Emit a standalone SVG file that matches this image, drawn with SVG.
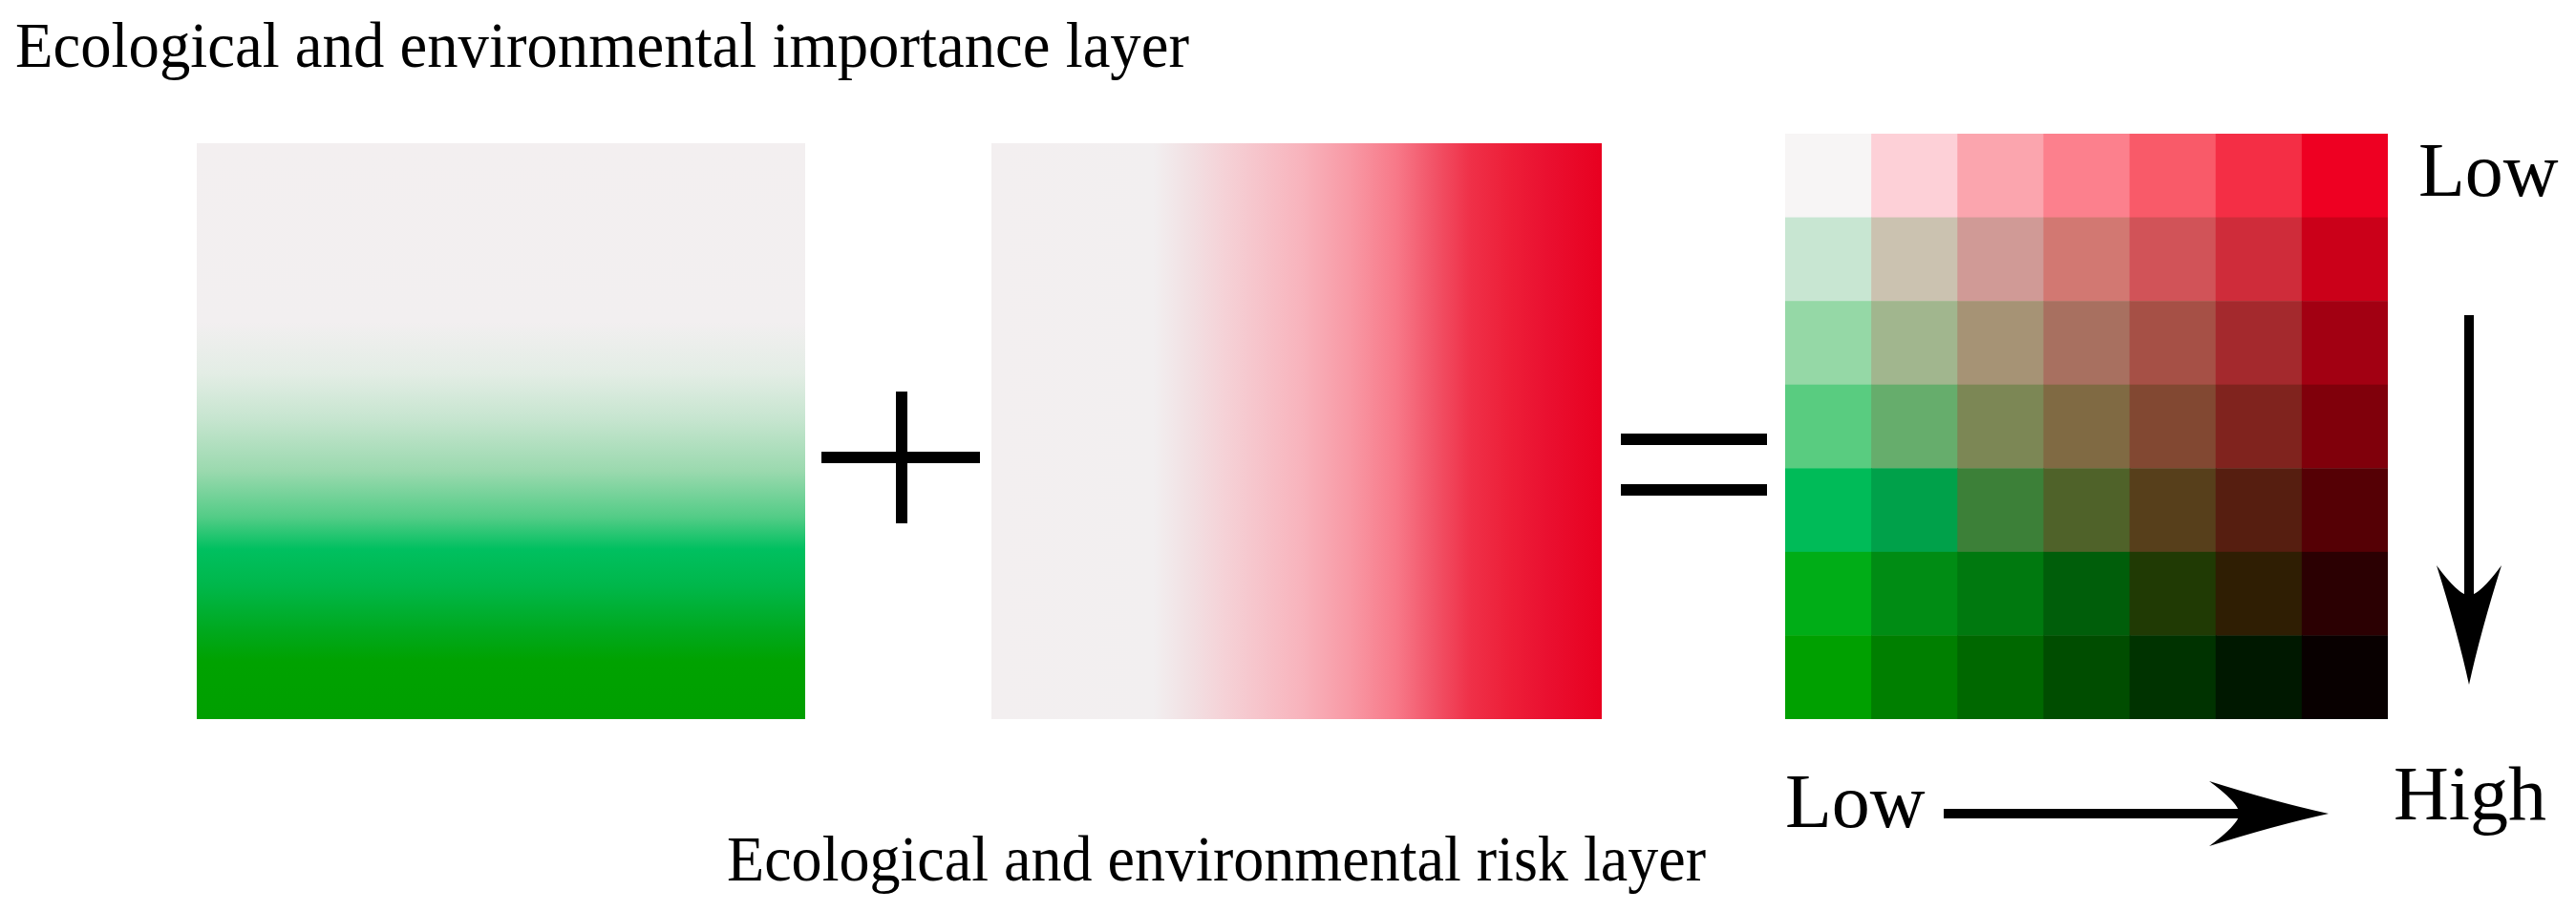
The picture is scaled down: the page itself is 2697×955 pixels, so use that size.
<svg xmlns="http://www.w3.org/2000/svg" width="2697" height="955" viewBox="0 0 2697 955">
<style>
.t{font-family:"Liberation Serif","Times New Roman",serif;fill:#000}
.title{font-size:68px}
.lab{font-size:80px}
.op{stroke:#000;stroke-width:12;fill:none}
.ax{stroke:#000;stroke-width:10;fill:none}
</style>
<defs>
<linearGradient id="gGreen" x1="0" y1="0" x2="0" y2="1">
<stop offset="0" stop-color="#f3eff0"/>
<stop offset="0.31" stop-color="#f2eff0"/>
<stop offset="0.4" stop-color="#e3ede5"/>
<stop offset="0.48" stop-color="#c6e5cf"/>
<stop offset="0.57" stop-color="#9ad9ae"/>
<stop offset="0.65" stop-color="#52cc86"/>
<stop offset="0.705" stop-color="#00c060"/>
<stop offset="0.77" stop-color="#00b74a"/>
<stop offset="0.85" stop-color="#00a81c"/>
<stop offset="0.9" stop-color="#00a200"/>
<stop offset="1" stop-color="#009f00"/>
</linearGradient>
<linearGradient id="gRed" x1="0" y1="0" x2="1" y2="0">
<stop offset="0" stop-color="#f3eff0"/>
<stop offset="0.265" stop-color="#f2eff0"/>
<stop offset="0.33" stop-color="#f2dfe2"/>
<stop offset="0.38" stop-color="#f5d2d7"/>
<stop offset="0.51" stop-color="#f8b3bc"/>
<stop offset="0.59" stop-color="#f898a4"/>
<stop offset="0.665" stop-color="#f77888"/>
<stop offset="0.72" stop-color="#f2566a"/>
<stop offset="0.785" stop-color="#ef3048"/>
<stop offset="0.85" stop-color="#ed1e38"/>
<stop offset="0.91" stop-color="#ea1030"/>
<stop offset="1" stop-color="#e80020"/>
</linearGradient>
<marker id="head" viewBox="0 0 125 68" refX="32" refY="34" markerWidth="125" markerHeight="68" markerUnits="userSpaceOnUse" orient="auto">
<path d="M125,34 Q70,22 0,0 Q30,22 32,34 Q30,46 0,68 Q70,46 125,34 Z" fill="#000"/>
</marker>
</defs>
<rect width="2697" height="955" fill="#fff"/>

<g id="title-importance">
<text class="t title" x="16" y="70" textLength="1229" lengthAdjust="spacingAndGlyphs">Ecological and environmental importance layer</text>
</g>

<g id="importance-layer">
<rect x="206" y="150" width="637" height="603" fill="url(#gGreen)"/>
</g>

<g id="plus">
<path class="op" d="M860,479 H1026 M944,410 V548"/>
</g>

<g id="risk-layer">
<rect x="1038" y="150" width="639" height="603" fill="url(#gRed)"/>
</g>

<g id="title-risk">
<text class="t title" x="761" y="922" textLength="1025" lengthAdjust="spacingAndGlyphs">Ecological and environmental risk layer</text>
</g>

<g id="equals">
<path class="op" d="M1697,460 H1850 M1697,513 H1850"/>
</g>

<g id="bivariate-grid">
<g transform="translate(1869,140)">
<rect x="0" y="0" width="91" height="88" fill="#f7f5f5"/>
<rect x="90.14" y="0" width="91" height="88" fill="#fdd0d7"/>
<rect x="180.29" y="0" width="91" height="88" fill="#fba5ae"/>
<rect x="270.43" y="0" width="91" height="88" fill="#fc808d"/>
<rect x="360.57" y="0" width="91" height="88" fill="#f95a69"/>
<rect x="450.71" y="0" width="91" height="88" fill="#f42e45"/>
<rect x="540.86" y="0" width="90.14" height="88" fill="#ee0022"/>

<rect x="0" y="87.57" width="91" height="88" fill="#c8e6d2"/>
<rect x="90.14" y="87.57" width="91" height="88" fill="#cbc2b0"/>
<rect x="180.29" y="87.57" width="91" height="88" fill="#d09a96"/>
<rect x="270.43" y="87.57" width="91" height="88" fill="#d27872"/>
<rect x="360.57" y="87.57" width="91" height="88" fill="#d15358"/>
<rect x="450.71" y="87.57" width="91" height="88" fill="#cf2c3a"/>
<rect x="540.86" y="87.57" width="90.14" height="88" fill="#cb0019"/>

<rect x="0" y="175.14" width="91" height="88" fill="#95d8a6"/>
<rect x="90.14" y="175.14" width="91" height="88" fill="#a1b68e"/>
<rect x="180.29" y="175.14" width="91" height="88" fill="#a69375"/>
<rect x="270.43" y="175.14" width="91" height="88" fill="#a87060"/>
<rect x="360.57" y="175.14" width="91" height="88" fill="#a65046"/>
<rect x="450.71" y="175.14" width="91" height="88" fill="#a4292d"/>
<rect x="540.86" y="175.14" width="90.14" height="88" fill="#a20012"/>

<rect x="0" y="262.71" width="91" height="88" fill="#59cc80"/>
<rect x="90.14" y="262.71" width="91" height="88" fill="#66ad6c"/>
<rect x="180.29" y="262.71" width="91" height="88" fill="#7c8755"/>
<rect x="270.43" y="262.71" width="91" height="88" fill="#806a43"/>
<rect x="360.57" y="262.71" width="91" height="88" fill="#824832"/>
<rect x="450.71" y="262.71" width="91" height="88" fill="#80231e"/>
<rect x="540.86" y="262.71" width="90.14" height="88" fill="#80000b"/>

<rect x="0" y="350.29" width="91" height="88" fill="#00bb58"/>
<rect x="90.14" y="350.29" width="91" height="88" fill="#00a14a"/>
<rect x="180.29" y="350.29" width="91" height="88" fill="#3c8038"/>
<rect x="270.43" y="350.29" width="91" height="88" fill="#4f6229"/>
<rect x="360.57" y="350.29" width="91" height="88" fill="#573f1b"/>
<rect x="450.71" y="350.29" width="91" height="88" fill="#561e10"/>
<rect x="540.86" y="350.29" width="90.14" height="88" fill="#550005"/>

<rect x="0" y="437.86" width="91" height="88" fill="#00ad17"/>
<rect x="90.14" y="437.86" width="91" height="88" fill="#008c14"/>
<rect x="180.29" y="437.86" width="91" height="88" fill="#00790f"/>
<rect x="270.43" y="437.86" width="91" height="88" fill="#005e0a"/>
<rect x="360.57" y="437.86" width="91" height="88" fill="#203a04"/>
<rect x="450.71" y="437.86" width="91" height="88" fill="#2f1e03"/>
<rect x="540.86" y="437.86" width="90.14" height="88" fill="#2b0002"/>

<rect x="0" y="525.43" width="91" height="87.57" fill="#00a000"/>
<rect x="90.14" y="525.43" width="91" height="87.57" fill="#007f00"/>
<rect x="180.29" y="525.43" width="91" height="87.57" fill="#006800"/>
<rect x="270.43" y="525.43" width="91" height="87.57" fill="#004d00"/>
<rect x="360.57" y="525.43" width="91" height="87.57" fill="#003300"/>
<rect x="450.71" y="525.43" width="91" height="87.57" fill="#001800"/>
<rect x="540.86" y="525.43" width="90.14" height="87.57" fill="#080000"/>
</g>
</g>

<g id="label-low-right">
<text class="t lab" x="2532" y="205">Low</text>
</g>
<g id="label-low-bottom">
<text class="t lab" x="1869" y="866">Low</text>
</g>
<g id="label-high">
<text class="t lab" x="2506" y="858">High</text>
</g>

<g id="connectors">
<line class="ax" x1="2585" y1="330" x2="2585" y2="624" marker-end="url(#head)"/>
<line class="ax" x1="2035" y1="852" x2="2345" y2="852" marker-end="url(#head)"/>
</g>
</svg>
